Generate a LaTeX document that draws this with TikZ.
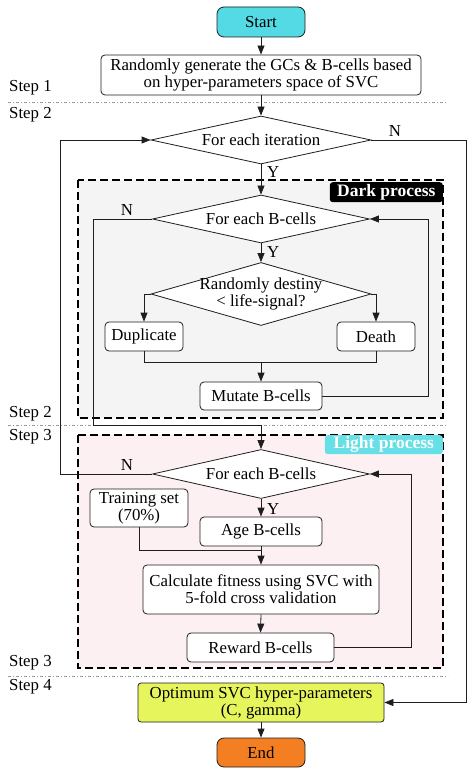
\documentclass[tikz,border=0pt]{standalone}
\usepackage{fontspec}
\setmainfont{Liberation Serif}
\usetikzlibrary{arrows.meta,shapes.geometric}
\definecolor{startcyan}{RGB}{84,218,228}
\definecolor{lightcyan}{RGB}{102,224,230}
\definecolor{optyellow}{RGB}{230,245,92}
\definecolor{endorange}{RGB}{244,126,34}
\definecolor{darkfill}{RGB}{244,244,244}
\definecolor{lightfill}{RGB}{253,240,243}
\definecolor{edge}{RGB}{30,30,30}
\newcommand\fs{\fontsize{16.8}{17}\selectfont}
\newcommand\lblfont{\fontsize{17.5}{18}\selectfont\bfseries}
\begin{document}
\begin{tikzpicture}[x=1pt,y=-1pt,
  every node/.style={font=\fs},
  box/.style={draw=edge, fill=white, rounded corners=4pt, line width=0.8pt, inner sep=0pt, align=center},
  dia/.style={draw=edge, fill=white, diamond, line width=0.8pt, inner sep=0pt, aspect=4},
  line/.style={draw=edge, line width=0.8pt},
  arr/.style={line, -{Triangle[length=9pt,width=7pt]}},
  sep/.style={draw=black!40, line width=0.6pt, dash pattern=on 3pt off 2pt on 1pt off 2pt},
  region/.style={draw=black, line width=1.4pt, dash pattern=on 8pt off 4pt},
  steplbl/.style={anchor=west, inner sep=0pt},
  yn/.style={inner sep=0pt}
]
\useasboundingbox (0,0) rectangle (474,775);

% regions
\path[fill=darkfill] (78,180) rectangle (443,418);
\draw[region] (78,180) rectangle (443,418);
\path[fill=lightfill] (78,435) rectangle (443,668);
\draw[region] (78,435) rectangle (443,668);
\node[anchor=north east, fill=black, text=white, font=\lblfont, rounded corners=3pt, minimum width=113pt, minimum height=20pt, inner sep=0pt] (darklbl) at (443,182) {Dark process};
\node[anchor=north east, fill=lightcyan, text=white, font=\lblfont, rounded corners=3pt, minimum width=118pt, minimum height=19pt, inner sep=0pt] (lightlbl) at (443,435) {Light process};

% separators
\draw[sep] (8,102) -- (448,102);
\draw[sep] (8,425) -- (448,425);
\draw[sep] (8,676) -- (448,676);

% step labels
\node[steplbl] (s1) at (9,88) {Step 1};
\node[steplbl] (s2a) at (9,115) {Step 2};
\node[steplbl] (s2b) at (9,414) {Step 2};
\node[steplbl] (s3a) at (9,437) {Step 3};
\node[steplbl] (s3b) at (9,663) {Step 3};
\node[steplbl] (s4) at (9,687) {Step 4};

% nodes
\node[box, fill=startcyan, rounded corners=7pt, minimum width=88pt, minimum height=30pt] (start) at (261,22) {Start};
\node[box, minimum width=320pt, minimum height=40pt] (gen) at (261,75) {Randomly generate the GCs \& B-cells based\\on hyper-parameters space of SVC};
\node[dia, minimum width=220pt, minimum height=48pt, label={center:For each iteration}] (iter) at (261,140) {};
\node[dia, minimum width=217pt, minimum height=48pt, label={center:For each B-cells}] (bc1) at (261,219) {};
\node[dia, minimum width=220pt, minimum height=63pt, label={[align=center]center:Randomly destiny\\< life-signal?}] (dec) at (261,294) {};
\node[box, minimum width=78pt, minimum height=29pt] (dup) at (144,336.5) {Duplicate};
\node[box, minimum width=78pt, minimum height=29pt] (death) at (376,336.5) {Death};
\node[box, minimum width=122pt, minimum height=28pt] (mut) at (261,396) {Mutate B-cells};
\node[dia, minimum width=217pt, minimum height=49pt, label={center:For each B-cells}] (bc2) at (261,474) {};
\node[box, minimum width=98pt, minimum height=38pt] (train) at (139,508) {Training set\\(70\%)};
\node[box, minimum width=122pt, minimum height=29pt] (age) at (261,531.5) {Age B-cells};
\node[box, minimum width=236pt, minimum height=49pt] (calc) at (261,589.5) {Calculate fitness using SVC with\\5-fold cross validation};
\node[box, minimum width=147pt, minimum height=29pt] (rew) at (260.5,647.5) {Reward B-cells};
\node[box, fill=optyellow, rounded corners=3pt, minimum width=246pt, minimum height=39pt] (opt) at (261,702.5) {Optimum SVC hyper-parameters\\(C, gamma)};
\node[box, fill=endorange, rounded corners=7pt, minimum width=88pt, minimum height=29pt] (end) at (261,752.5) {End};

% coordinates
\coordinate (ll) at (60,140);
\coordinate (rr) at (466,140);
\coordinate (bl) at (93,219);
\coordinate (bj) at (261,425);
\coordinate (dr) at (428,219);
\coordinate (j1) at (261,362);
\coordinate (j2) at (261,550);
\coordinate (lr) at (411,474);

% connectors
\draw[arr] (start) -- (gen);
\draw[arr] (gen) -- (iter.north);
\draw[arr] (iter.south) -- (bc1.north);
\draw[arr] (iter.east) -- (rr) |- (opt.east);
\draw[line] (bc1.west) -- (bl) |- (bj);
\draw[arr] (bj) -- (bc2.north);
\draw[arr] (bc1.south) -- (dec.north);
\draw[arr] (dec.west) -| (dup.north);
\draw[arr] (dec.east) -| (death.north);
\draw[line] (dup.south) |- (death.south |- j1) -- (death.south);
\draw[arr] (j1) -- (mut.north);
\draw[arr] (mut.east) -| (dr) -- (bc1.east);
\draw[arr] (bc2.west) -| (ll) -- (iter.west);
\draw[arr] (bc2.south) -- (age.north);
\draw[line] (train.south) |- (j2);
\draw[arr] (age.south) -- (calc.north);
\draw[arr] (calc.south) -- (rew.north);
\draw[arr] (rew.east) -| (lr) -- (bc2.east);
\draw[arr] (opt.south) -- (end.north);

% Y / N labels
\node[yn, anchor=west] (y1) at (267,172) {Y};
\node[yn] (n1) at (395,131) {N};
\node[yn] (n2) at (127,210) {N};
\node[yn, anchor=west] (y2) at (267,252) {Y};
\node[yn] (n3) at (127,465) {N};
\node[yn, anchor=west] (y3) at (267,509) {Y};
\end{tikzpicture}
\end{document}
